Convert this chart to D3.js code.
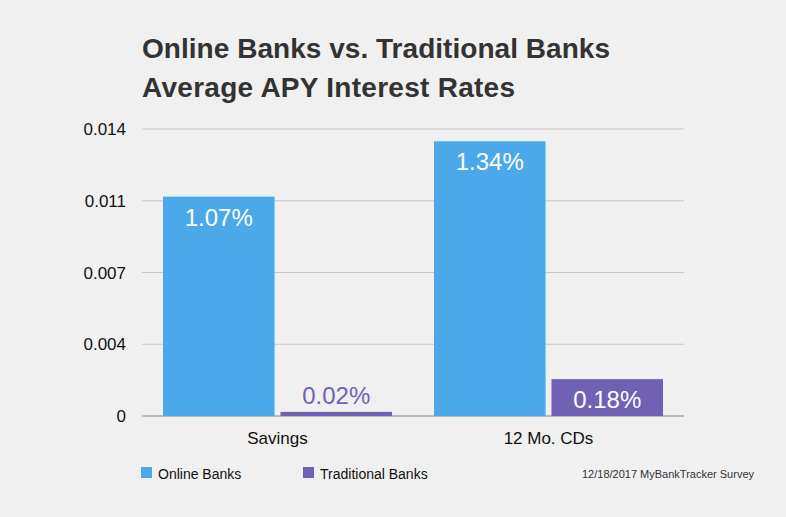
<!DOCTYPE html><html><head><script src="https://cdn.jsdelivr.net/npm/d3@7"></script>
<style>body{margin:0;background:#f0f0f0}</style></head><body>
<script>
const categories=["Savings","12 Mo. CDs"];
const series=["Online Banks","Traditional Banks"];
const online=[0.0107,0.0134];
const traditional=[0.0002,0.0018];
const labelsOnline=["1.07%","1.34%"];
const labelsTrad=["0.02%","0.18%"];
const tickValues=[0,0.0035,0.007,0.0105,0.014];
const tickLabels=["0","0.004","0.007","0.011","0.014"];
const colors=["#4ba9e9","#7161b5"];
const W=786,H=517;
const svg=d3.select("body").append("svg").attr("width",W).attr("height",H).style("font-family","Helvetica, Liberation Sans, Arial, sans-serif");
svg.append("rect").attr("width",W).attr("height",H).attr("fill","#f0f0f0");
const x0=d3.scaleBand().domain(categories).range([142,684]);
const x1=d3.scaleBand().domain(series).range([21,250]).paddingInner(0.05);
const y=d3.scaleLinear().domain([0,0.014]).range([416,129]);
const tt=svg.append("text").attr("font-size",28).attr("font-weight","bold").attr("fill","#333").attr("textLength",null);
svg.append("text").attr("x",142).attr("y",58).attr("font-size",28).attr("font-weight","bold").attr("fill","#333").attr("textLength",468).text("Online Banks vs. Traditional Banks");
svg.append("text").attr("x",142).attr("y",97).attr("font-size",28).attr("font-weight","bold").attr("fill","#333").attr("textLength",373).text("Average APY Interest Rates");
const g=svg.append("g");
tickValues.forEach((t,i)=>{
 g.append("line").attr("x1",142).attr("x2",684).attr("y1",y(t)).attr("y2",y(t)).attr("stroke",i==0?"#888":"#c8c8c8").attr("stroke-width",1);
 g.append("text").attr("x",126).attr("y",y(t)+6).attr("text-anchor","end").attr("font-size",17).attr("fill","#111").text(tickLabels[i]);
});
categories.forEach((c,i)=>{
 const vals=[online[i],traditional[i]],labs=[labelsOnline[i],labelsTrad[i]];
 vals.forEach((v,j)=>{
  const s=series[j],bx=x0(c)+x1(s),bw=x1.bandwidth();
  g.append("rect").attr("x",bx).attr("y",y(v)).attr("width",bw).attr("height",y(0)-y(v)).attr("fill",colors[j]);
  const inside=(y(0)-y(v))>30;
  g.append("text").attr("x",bx+bw/2).attr("y",inside?y(v)+29:y(v)-8).attr("text-anchor","middle").attr("font-size",24).attr("fill",inside?"#fff":colors[1]).text(labs[j]);
 });
 g.append("text").attr("x",x0(c)+x0.bandwidth()/2).attr("y",444).attr("text-anchor","middle").attr("font-size",17).attr("fill","#111").text(c);
});
const lx=[142,304];
series.forEach((s,j)=>{
 svg.append("rect").attr("x",lx[j]-1).attr("y",467).attr("width",11).attr("height",11).attr("fill",colors[j]);
 svg.append("text").attr("x",lx[j]+16).attr("y",479).attr("font-size",14).attr("fill","#111").text(s);
});
svg.append("text").attr("x",754).attr("y",478).attr("text-anchor","end").attr("font-size",11).attr("fill","#333").text("12/18/2017 MyBankTracker Survey");
</script></body></html>
